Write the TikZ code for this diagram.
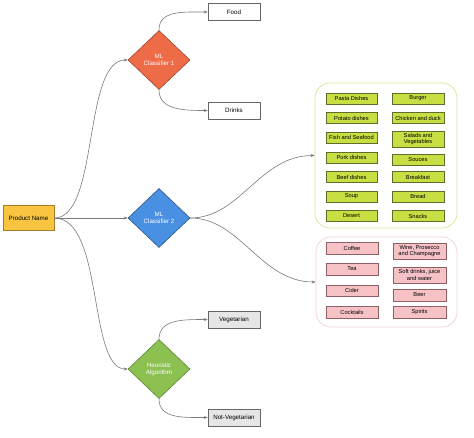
\documentclass[tikz,border=0pt]{standalone}
\usepackage{fontspec}
\setmainfont{Liberation Sans}
\usetikzlibrary{shapes.geometric,arrows.meta}
\definecolor{linegray}{HTML}{7A7A7A}
\definecolor{pnfill}{HTML}{F9C440}
\definecolor{pndraw}{HTML}{A87A26}
\definecolor{mlone}{HTML}{EE6B47}
\definecolor{mloneD}{HTML}{9E442E}
\definecolor{mltwo}{HTML}{4A90E2}
\definecolor{mltwoD}{HTML}{2A5688}
\definecolor{heur}{HTML}{8CC152}
\definecolor{heurD}{HTML}{5C8534}
\definecolor{itgreen}{HTML}{C8DE42}
\definecolor{itgreenD}{HTML}{5F6E2A}
\definecolor{itpink}{HTML}{F6C2C6}
\definecolor{itpinkD}{HTML}{8C6064}
\definecolor{contgreen}{HTML}{D6E68E}
\definecolor{contpink}{HTML}{F0D2D2}
\definecolor{vegfill}{HTML}{E6E6E6}
\begin{document}
\begin{tikzpicture}[x=1pt,y=-1pt,
  every node/.style={font=\fontsize{6.2}{7.2}\selectfont, align=center, inner sep=0pt},
  conn/.style={draw=linegray, line width=0.6pt, -{Stealth[length=4pt,width=3pt]}},
  plainbox/.style={draw=black!60, line width=0.5pt, fill=white, minimum width=52pt, minimum height=17pt},
  vegbox/.style={plainbox, fill=vegfill},
  decision/.style={diamond, aspect=1.05, minimum width=62pt, minimum height=59pt, text=white, line width=0.6pt},
  gitem/.style={draw=itgreenD, fill=itgreen, line width=0.5pt, minimum height=11pt, font=\fontsize{5.7}{6.6}\selectfont},
  pitem/.style={draw=itpinkD, fill=itpink, line width=0.5pt, minimum height=12pt, font=\fontsize{5.7}{6.6}\selectfont},
  container/.style={draw, line width=0.7pt, rounded corners=15pt, fill=white}]
\useasboundingbox (0,0) rectangle (474,437);
% main nodes
\node[draw=pndraw, fill=pnfill, line width=0.6pt, minimum width=51pt, minimum height=25pt] (pn) at (28.5,218) {Product Name};
\node[decision, draw=mloneD, fill=mlone] (ml1) at (159,60) {ML\\Classifier 1};
\node[decision, draw=mltwoD, fill=mltwo] (ml2) at (159,218) {ML\\Classifier 2};
\node[decision, draw=heurD, fill=heur] (heu) at (159,369) {Heuristic\\Algorithm};
\node[plainbox] (food) at (234,12) {Food};
\node[plainbox] (drinks) at (234,110.5) {Drinks};
\node[vegbox] (veg) at (234,319.5) {Vegetarian};
\node[vegbox] (nveg) at (234,417.5) {Not-Vegetarian};
% containers
\node[container, draw=contgreen, minimum width=142pt, minimum height=145pt] (foodcat) at (386,155.5) {};
\node[container, draw=contpink, minimum width=141pt, minimum height=90pt] (drinkcat) at (386.5,282) {};
% food items
\node[gitem, minimum width=51pt] (f1) at (351.5,98.5) {Pasta Dishes};
\node[gitem, minimum width=51pt] (f2) at (351.5,118) {Potato dishes};
\node[gitem, minimum width=51pt] (f3) at (351.5,137.5) {Fish and Seafood};
\node[gitem, minimum width=51pt] (f4) at (351.5,157.5) {Pork dishes};
\node[gitem, minimum width=51pt] (f5) at (351.5,177) {Beef dishes};
\node[gitem, minimum width=51pt] (f6) at (351.5,196.5) {Soup};
\node[gitem, minimum width=51pt] (f7) at (351.5,216) {Desert};
\node[gitem, minimum width=52pt] (g1) at (418,98.5) {Burger};
\node[gitem, minimum width=52pt] (g2) at (418,118) {Chicken and duck};
\node[gitem, minimum width=52pt, minimum height=16pt] (g3) at (418,139) {Salads and\\Vegetables};
\node[gitem, minimum width=52pt] (g4) at (418,159.5) {Souces};
\node[gitem, minimum width=52pt] (g5) at (418,177) {Breakfast};
\node[gitem, minimum width=52pt] (g6) at (418,196.5) {Bread};
\node[gitem, minimum width=52pt] (g7) at (418,216) {Snacks};
% drink items
\node[pitem, minimum width=52pt] (d1) at (352,248) {Coffee};
\node[pitem, minimum width=52pt] (d2) at (352,269) {Tea};
\node[pitem, minimum width=52pt, minimum height=11pt] (d3) at (352,290.5) {Cider};
\node[pitem, minimum width=52pt] (d4) at (352,312) {Cocktails};
\node[pitem, minimum width=53pt, minimum height=16pt] (e1) at (419.5,251) {Wine, Prosecco\\and Champagne};
\node[pitem, minimum width=53pt, minimum height=16pt] (e2) at (419.5,275) {Soft drinks, juice\\and water};
\node[pitem, minimum width=53pt] (e3) at (419.5,295) {Beer};
\node[pitem, minimum width=53pt] (e4) at (419.5,312) {Spirits};
% connectors
\draw[conn] (pn.east) -- (ml2.west);
\draw[conn] (pn.east) .. controls +(45,0) and +(-45,0) .. (ml1.west);
\draw[conn] (pn.east) .. controls +(50,0) and +(-40,0) .. (heu.west);
\draw[conn] (ml1.north) .. controls +(0,-20) and +(-25,0) .. (food.west);
\draw[conn] (ml1.south) .. controls +(0,20) and +(-25,0) .. (drinks.west);
\draw[conn] (heu.north) .. controls +(0,-20) and +(-25,0) .. (veg.west);
\draw[conn] (heu.south) .. controls +(0,20) and +(-25,0) .. (nveg.west);
\draw[conn] (ml2.east) .. controls +(50,0) and +(-55,0) .. (foodcat.west);
\draw[conn] (ml2.east) .. controls +(50,0) and +(-55,0) .. (drinkcat.west);
\end{tikzpicture}
\end{document}
